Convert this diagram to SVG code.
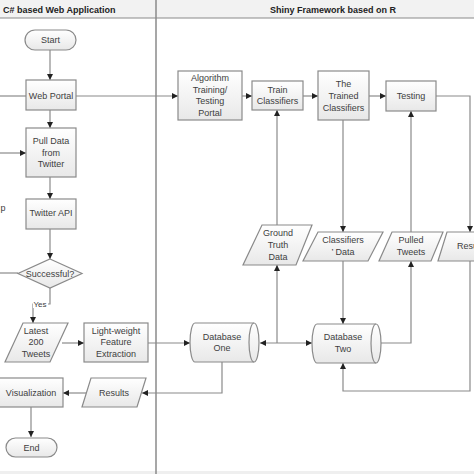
<svg xmlns="http://www.w3.org/2000/svg" width="474" height="474" viewBox="0 0 474 474">
<defs>
<linearGradient id="g" x1="0" y1="0" x2="0" y2="1"><stop offset="0" stop-color="#ffffff"/><stop offset="1" stop-color="#e8e8e8"/></linearGradient>
<marker id="a" viewBox="0 0 6 6" refX="6" refY="3" markerWidth="6" markerHeight="6" markerUnits="userSpaceOnUse" orient="auto"><path d="M0,0 L6,3 L0,6 Z" fill="#222"/></marker>
<marker id="as" viewBox="0 0 6 6" refX="0" refY="3" markerWidth="6" markerHeight="6" markerUnits="userSpaceOnUse" orient="auto"><path d="M6,0 L0,3 L6,6 Z" fill="#222"/></marker>
<style>
.s{fill:url(#g);stroke:#8a8a8a;stroke-width:1.2}
.l{fill:none;stroke:#8a8a8a;stroke-width:1.2}
.t{font-family:"Liberation Sans",Arial,sans-serif;font-size:9px;fill:#404040;text-anchor:middle}
.h{font-family:"Liberation Sans",Arial,sans-serif;font-size:9px;font-weight:bold;fill:#222}
</style>
</defs>
<rect width="474" height="474" fill="#fff"/>
<rect x="0" y="0" width="474" height="18" fill="#f2f2f2"/>
<rect x="0" y="471" width="474" height="3" fill="#efefef"/>
<line x1="0" y1="18" x2="474" y2="18" stroke="#8a8a8a" stroke-width="1.2"/>
<line x1="156" y1="0" x2="156" y2="474" stroke="#8a8a8a" stroke-width="1.5"/>
<text class="h" x="3" y="13">C# based Web Application</text>
<text class="h" x="333" y="13" text-anchor="middle">Shiny Framework based on R</text>
<text class="t" x="0.5" y="211" style="text-anchor:start">p</text>

<g id="connectors">
<path class="l" d="M50,50 V80" marker-end="url(#a)"/>
<path class="l" d="M0,96 H26"/>
<path class="l" d="M50,110 V128" marker-end="url(#a)"/>
<path class="l" d="M0,153 H26" marker-end="url(#a)"/>
<path class="l" d="M50,177 V199" marker-end="url(#a)"/>
<path class="l" d="M50,229 V259" marker-end="url(#a)"/>
<path class="l" d="M0,273 H18"/>
<path class="l" d="M50,288 V304 H33 V323" marker-end="url(#a)"/>
<path class="l" d="M62,343 H84" marker-end="url(#a)"/>
<path class="l" d="M148,343 H190" marker-end="url(#a)"/>
<path class="l" d="M222,362 V393 H142" marker-end="url(#a)"/>
<path class="l" d="M86,393 H63" marker-end="url(#a)"/>
<path class="l" d="M31,407 V437" marker-end="url(#a)"/>
<path class="l" d="M76,96 H178" marker-end="url(#a)"/>
<path class="l" d="M242,96 H252" marker-end="url(#a)"/>
<path class="l" d="M303,96 H318" marker-end="url(#a)"/>
<path class="l" d="M369,96 H386" marker-end="url(#a)"/>
<path class="l" d="M436,96 H470 V232" marker-end="url(#a)"/>
<path class="l" d="M277,225 V110" marker-end="url(#a)"/>
<path class="l" d="M277,343 V265" marker-end="url(#a)"/>
<path class="l" d="M260,343 H312" marker-start="url(#as)" marker-end="url(#a)"/>
<path class="l" d="M343,120 V232" marker-end="url(#a)"/>
<path class="l" d="M343,261 V324" marker-end="url(#a)"/>
<path class="l" d="M381,343 H411 V261" marker-end="url(#a)"/>
<path class="l" d="M411,232 V111" marker-end="url(#a)"/>
<path class="l" d="M470,261 V391 H343 V363" marker-end="url(#a)"/>
</g>
<rect x="33" y="299" width="15" height="9" fill="#fff"/>
<text class="t" x="40" y="307" style="font-size:8px">Yes</text>

<g id="start"><rect class="s" x="25" y="30" width="51" height="20" rx="10"/><text class="t" x="50.5" y="43">Start</text></g>
<g id="webportal"><rect class="s" x="26" y="80" width="50" height="30"/><text class="t" x="51" y="99">Web Portal</text></g>
<g id="pulldata"><rect class="s" x="26" y="128" width="50" height="49"/><text class="t" x="51" y="144">Pull Data</text><text class="t" x="51" y="156">from</text><text class="t" x="51" y="167">Twitter</text></g>
<g id="twitterapi"><rect class="s" x="26" y="199" width="50" height="30"/><text class="t" x="51" y="216">Twitter API</text></g>
<g id="successful"><polygon class="s" points="50,259 82,273.5 50,288 18,273.5"/><text class="t" x="50" y="276.5">Successful?</text></g>
<g id="latest"><polygon class="s" points="23,323 68,323 50,362 5,362"/><text class="t" x="36" y="334">Latest</text><text class="t" x="36" y="345">200</text><text class="t" x="36" y="357">Tweets</text></g>
<g id="lightweight"><rect class="s" x="84" y="323" width="64" height="39"/><text class="t" x="116" y="334">Light-weight</text><text class="t" x="116" y="345">Feature</text><text class="t" x="116" y="357">Extraction</text></g>
<g id="visualization"><rect class="s" x="-1" y="378" width="64" height="29"/><text class="t" x="31" y="396">Visualization</text></g>
<g id="results"><polygon class="s" points="91,378 146,378 137,407 82,407"/><text class="t" x="114" y="396">Results</text></g>
<g id="end"><rect class="s" x="6" y="438" width="51" height="19" rx="9.5"/><text class="t" x="31.5" y="451">End</text></g>

<g id="algorithm"><rect class="s" x="178" y="71" width="64" height="49"/><text class="t" x="210" y="81">Algorithm</text><text class="t" x="210" y="92.5">Training/</text><text class="t" x="210" y="104">Testing</text><text class="t" x="210" y="116">Portal</text></g>
<g id="train"><rect class="s" x="252" y="81" width="51" height="29"/><text class="t" x="277.5" y="92.5">Train</text><text class="t" x="277.5" y="104">Classifiers</text></g>
<g id="trained"><rect class="s" x="318" y="71" width="51" height="49"/><text class="t" x="343.5" y="86.5">The</text><text class="t" x="343.5" y="99">Trained</text><text class="t" x="343.5" y="110.5">Classifiers</text></g>
<g id="testing"><rect class="s" x="386" y="81" width="50" height="30"/><text class="t" x="411" y="99">Testing</text></g>
<g id="groundtruth"><polygon class="s" points="262,225 312,225 296,265 243,265"/><text class="t" x="278" y="236">Ground</text><text class="t" x="278" y="248">Truth</text><text class="t" x="278" y="260">Data</text></g>
<g id="classifiersdata"><polygon class="s" points="318,232 383,232 368,261 303,261"/><text class="t" x="343" y="243">Classifiers</text><text class="t" x="343" y="255">’ Data</text></g>
<g id="pulledtweets"><polygon class="s" points="392,232 443,232 431,261 379,261"/><text class="t" x="411" y="243">Pulled</text><text class="t" x="411" y="255">Tweets</text></g>
<g id="results2"><polygon class="s" points="447,232 480,232 480,261 438,261"/><text class="t" x="457" y="249" style="text-anchor:start">Results</text></g>
<g id="databaseone"><path class="s" d="M195,323 L254,323 A5,19.5 0 0 1 254,362 L195,362 A5,19.5 0 0 1 195,323 Z"/><path class="l" d="M254,323 A5,19.5 0 0 0 254,362"/><text class="t" x="222" y="340">Database</text><text class="t" x="222" y="351">One</text></g>
<g id="databasetwo"><path class="s" d="M317,324 L376,324 A5,19.5 0 0 1 376,363 L317,363 A5,19.5 0 0 1 317,324 Z"/><path class="l" d="M376,324 A5,19.5 0 0 0 376,363"/><text class="t" x="343" y="340">Database</text><text class="t" x="343" y="352">Two</text></g>
</svg>
